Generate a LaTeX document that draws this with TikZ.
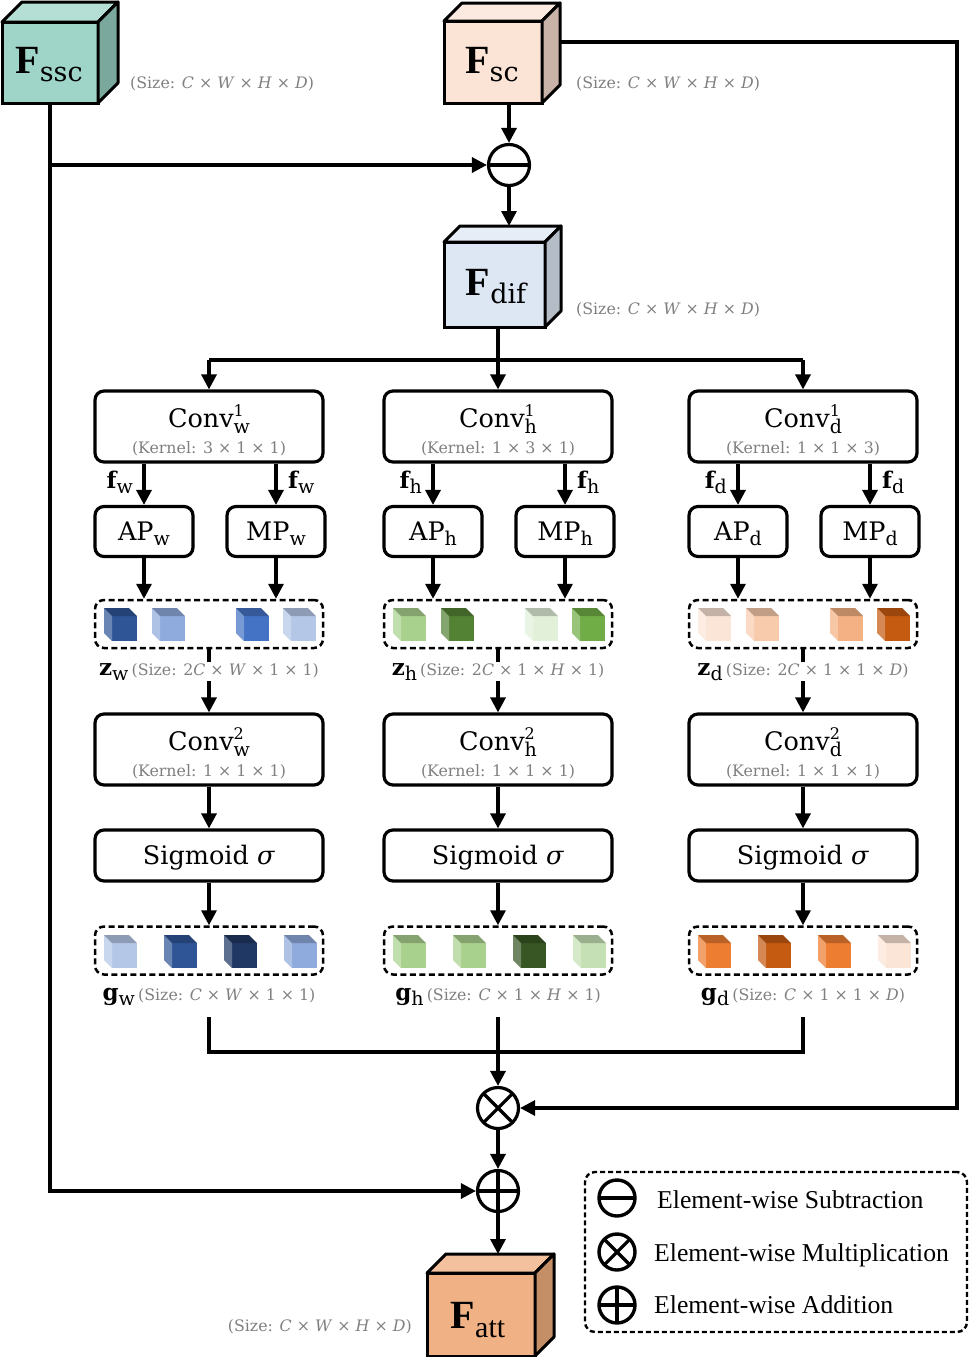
\documentclass[tikz,border=0pt]{standalone}
\usepackage{fontspec}
\setmainfont{DejaVu Serif}
\newfontfamily\timesf{Liberation Serif}
\usetikzlibrary{arrows.meta,calc}

\definecolor{gry}{HTML}{7F7F7F}
\definecolor{bA}{HTML}{2F5597}
\definecolor{bB}{HTML}{8FAADC}
\definecolor{bC}{HTML}{4472C4}
\definecolor{bD}{HTML}{B4C7E7}
\definecolor{bE}{HTML}{203864}
\definecolor{gA}{HTML}{A9D18E}
\definecolor{gB}{HTML}{548235}
\definecolor{gC}{HTML}{E2F0D9}
\definecolor{gD}{HTML}{70AD47}
\definecolor{gE}{HTML}{375623}
\definecolor{gF}{HTML}{C5E0B4}
\definecolor{oA}{HTML}{FBE5D6}
\definecolor{oB}{HTML}{F8CBAD}
\definecolor{oC}{HTML}{F4B183}
\definecolor{oD}{HTML}{C55A11}
\definecolor{oE}{HTML}{ED7D31}
\definecolor{fsscF}{HTML}{9FD5C8}
\definecolor{fsscT}{HTML}{B5DFD5}
\definecolor{fsscS}{HTML}{7BA89C}
\definecolor{fscF}{HTML}{FBE3D6}
\definecolor{fscT}{HTML}{FCEAE0}
\definecolor{fscS}{HTML}{C9B2A7}
\definecolor{fdifF}{HTML}{DDE7F4}
\definecolor{fdifT}{HTML}{E6EDF7}
\definecolor{fdifS}{HTML}{B4BCC7}
\definecolor{fattF}{HTML}{F0B184}
\definecolor{fattT}{HTML}{F4C19F}
\definecolor{fattS}{HTML}{C48E67}

\newcommand\mainf{\fontsize{25.5}{28}\selectfont}
\newcommand\kernf{\color{gry}\fontsize{15.8}{17}\selectfont}
\newcommand\ssx[2]{\makebox[0pt][l]{\raisebox{11pt}{\fontsize{16}{16}\selectfont #1}}\raisebox{-6pt}{\fontsize{19}{19}\selectfont #2}}
\newcommand\sbx[1]{\raisebox{-5pt}{\fontsize{19}{19}\selectfont #1}}
\newcommand\bigF[1]{{\timesf\bfseries\fontsize{40}{40}\selectfont F}\raisebox{-8pt}{\fontsize{27}{27}\selectfont #1}}

\tikzset{
  ln/.style={line width=3.3pt},
  arr/.style={line width=3.3pt, -{Triangle[length=15pt,width=15pt]}},
  opbox/.style={draw, line width=3.2pt, rounded corners=9pt, inner sep=0pt, fill=white},
  dbox/.style={draw, line width=2.5pt, dash pattern=on 6pt off 3.5pt, rounded corners=9pt,
     inner sep=0pt, minimum width=228, minimum height=48},
  txt/.style={inner sep=0pt, anchor=base},
  opc/.style={circle, draw, line width=3.2pt, minimum size=41, inner sep=0pt},
  opminus/.style={opc, path picture={\draw[line width=3.2pt] (path picture bounding box.center) +(-25,0) -- +(25,0);}},
  optimes/.style={opc, path picture={\draw[line width=3.2pt] (path picture bounding box.center) +(-20,-20) -- +(20,20) (path picture bounding box.center) +(-20,20) -- +(20,-20);}},
  opplus/.style={opc, path picture={\draw[line width=3.2pt] (path picture bounding box.center) +(-25,0) -- +(25,0) (path picture bounding box.center) +(0,-25) -- +(0,25);}},
}

\newcommand\bigcube[6]{%
  \node[draw, line width=3pt, fill=#1F, minimum width=#4, minimum height=#5, inner sep=0pt, outer sep=0pt] (#1) at (#2,#3) {};
  \draw[line width=3pt, line join=round, fill=#1T] (#1.north west) -- ++(#6,-#6) -- ++(#4,0) -- (#1.north east) -- cycle;
  \draw[line width=3pt, line join=round, fill=#1S] (#1.north east) -- ++(#6,-#6) -- ++(0,#5) -- (#1.south east) -- cycle;
}

\newcommand\smallcube[3]{%
  \fill[#3] ({#1+8},#2) rectangle ({#1+33},{#2+25});
  \fill[#3!72!white] ({#1},{#2-8}) -- ({#1+8},#2) -- ({#1+8},{#2+25}) -- ({#1},{#2+17}) -- cycle;
  \fill[#3!78!black] ({#1},{#2-8}) -- ({#1+25},{#2-8}) -- ({#1+33},#2) -- ({#1+8},#2) -- cycle;
}

% #1 id, #2 left x, #3 kernel, #4 z size, #5 g size, #6 z cubes, #7 g cubes
\newcommand\branch[7]{%
  \pgfmathsetmacro\cx{#2+114}
  \pgfmathsetmacro\ax{#2+49}
  \pgfmathsetmacro\mx{#2+181}
  \node[opbox, minimum width=228, minimum height=71] (c1#1) at (\cx,426.5) {};
  \node[txt] (c1t#1) at (\cx,427) {\mainf Conv\ssx{1}{#1}};
  \node[txt] (c1k#1) at (\cx,453) {\kernf (Kernel: #3)};
  \node[opbox, minimum width=98, minimum height=50] (ap#1) at (\ax,531.5) {};
  \node[txt] (apt#1) at (\ax,540) {\mainf AP\sbx{#1}};
  \node[opbox, minimum width=98, minimum height=50] (mp#1) at (\mx,531.5) {};
  \node[txt] (mpt#1) at (\mx,540) {\mainf MP\sbx{#1}};
  \node[txt, anchor=base east] (fa#1) at (\ax-11,488) {{\fontsize{23}{23}\selectfont\bfseries f}\sbx{#1}};
  \node[txt, anchor=base west] (fm#1) at (\mx+12,488) {{\fontsize{23}{23}\selectfont\bfseries f}\sbx{#1}};
  \node[dbox] (zb#1) at (\cx,624) {};
  \foreach \o/\c in {#6} {\smallcube{#2+\o}{616}{\c}}
  \node[txt, inner sep=1pt] (zl#1) at (\cx,675) {{\fontsize{23}{23}\selectfont\bfseries z}\sbx{#1} \kernf (Size: 2\textit{C} × #4)};
  \node[opbox, minimum width=228, minimum height=71] (c2#1) at (\cx,749.5) {};
  \node[txt] (c2t#1) at (\cx,750) {\mainf Conv\ssx{2}{#1}};
  \node[txt] (c2k#1) at (\cx,776) {\kernf (Kernel: 1 × 1 × 1)};
  \node[opbox, minimum width=228, minimum height=51] (sg#1) at (\cx,855.5) {};
  \node[txt] (sgt#1) at (\cx,864) {\mainf Sigmoid \textit{σ}};
  \node[dbox] (gb#1) at (\cx,950.5) {};
  \foreach \o/\c in {#7} {\smallcube{#2+\o}{943}{\c}}
  \node[txt, inner sep=1pt] (gl#1) at (\cx,1000) {{\fontsize{23}{23}\selectfont\bfseries g}\sbx{#1} \kernf (Size: \textit{C} × #5)};
  \coordinate (gs#1) at (\cx,1017);
  \coordinate (gj#1) at (\cx,1052);
  % connectors
  \draw[arr] (c1#1.south -| ap#1.north) -- (ap#1.north);
  \draw[arr] (c1#1.south -| mp#1.north) -- (mp#1.north);
  \draw[arr] (ap#1.south) -- (ap#1.south |- zb#1.north);
  \draw[arr] (mp#1.south) -- (mp#1.south |- zb#1.north);
  \draw[ln] (zb#1.south) -- (zl#1.north -| zb#1.south);
  \draw[arr] (zl#1.south -| zb#1.south) -- (c2#1.north);
  \draw[arr] (c2#1) -- (sg#1);
  \draw[arr] (sg#1) -- (gb#1);
}

\begin{document}
\begin{tikzpicture}[x=1pt,y=-1pt]
\useasboundingbox (0,0) rectangle (969,1357);

% input / output cubes
\bigcube{fssc}{50}{62.5}{96}{81}{20}
\node[txt] (fsscl) at (49,73) {\bigF{ssc}};
\node[txt, anchor=base west] (fssczs) at (130,88) {\kernf (Size: \textit{C} × \textit{W} × \textit{H} × \textit{D})};

\bigcube{fsc}{493}{62}{98}{82}{18}
\node[txt] (fscl) at (492,73) {\bigF{sc}};
\node[txt, anchor=base west] (fsczs) at (576,88) {\kernf (Size: \textit{C} × \textit{W} × \textit{H} × \textit{D})};

\bigcube{fdif}{494.5}{284.5}{101}{85}{16}
\node[txt] (fdifl) at (496,295) {\bigF{dif}};
\node[txt, anchor=base west] (fdifzs) at (576,314) {\kernf (Size: \textit{C} × \textit{W} × \textit{H} × \textit{D})};

\bigcube{fatt}{481}{1314.5}{108}{83}{19}
\node[txt] (fattl) at (478,1328) {{\timesf\bfseries\fontsize{40}{40}\selectfont F}\raisebox{-9pt}{\timesf\fontsize{30}{30}\selectfont att}};
\node[txt, anchor=base east] (fattzs) at (412,1331) {\kernf (Size: \textit{C} × \textit{W} × \textit{H} × \textit{D})};

% operators
\node[opminus] (minus) at (509,165) {};
\node[optimes] (mult) at (498,1108) {};
\node[opplus] (plus) at (498,1191) {};

% branches
\branch{w}{95}{3 × 1 × 1}{\textit{W} × 1 × 1}{\textit{W} × 1 × 1}{9/bA,57/bB,141/bC,188/bD}{9/bD,69/bA,129/bE,189/bB}
\branch{h}{384}{1 × 3 × 1}{1 × \textit{H} × 1}{1 × \textit{H} × 1}{9/gA,57/gB,141/gC,188/gD}{9/gA,69/gA,129/gE,189/gF}
\branch{d}{689}{1 × 1 × 3}{1 × 1 × \textit{D}}{1 × 1 × \textit{D}}{9/oA,57/oB,141/oC,188/oD}{9/oE,69/oD,129/oE,189/oA}

% main connectors
\coordinate (fscside) at (560,42);
\coordinate (rc) at (957,42);
\coordinate (fdifback) at ($(fdif.north west)+(16,-16)$);
\coordinate (fattback) at ($(fatt.north west)+(19,-19)$);
\coordinate (br) at (498,360);

\draw[arr] (fsc.south -| minus) -- (minus);
\draw[arr] (minus) -- (minus |- fdifback);
\draw[arr] (fssc.south |- minus) -- (minus);
\draw[arr] (fssc.south) |- (plus);
\draw[arr] (fscside) -- (rc) |- (mult);
\draw[ln] (fdif.south -| br) -- (br);
\draw[ln] (br -| c1w) -- (br -| c1d);
\draw[arr] (br -| c1w) -- (c1w);
\draw[arr] (br -| c1h) -- (c1h);
\draw[arr] (br -| c1d) -- (c1d);
\draw[ln] (gsw) -- (gjw) -- (gjd) -- (gsd);
\draw[arr] (gsh) -- (mult);
\draw[arr] (mult) -- (plus);
\draw[arr] (plus) -- (plus |- fattback);

% legend
\node[draw, line width=2.4pt, dash pattern=on 5pt off 3pt, rounded corners=10pt, minimum width=382, minimum height=160, inner sep=0pt] (leg) at (776,1252) {};
\node[opminus, minimum size=36, line width=3.4pt] (lgm) at (617,1198) {};
\node[optimes, minimum size=36, line width=3.4pt] (lgt) at (617,1252) {};
\node[opplus, minimum size=36, line width=3.4pt] (lgp) at (617,1305) {};
\node[txt, anchor=base west] (lgmt) at (657,1208) {\timesf\fontsize{25.7}{26}\selectfont Element-wise Subtraction};
\node[txt, anchor=base west] (lgtt) at (654,1261) {\timesf\fontsize{25.7}{26}\selectfont Element-wise Multiplication};
\node[txt, anchor=base west] (lgpt) at (654,1313) {\timesf\fontsize{25.7}{26}\selectfont Element-wise Addition};
\end{tikzpicture}
\end{document}
